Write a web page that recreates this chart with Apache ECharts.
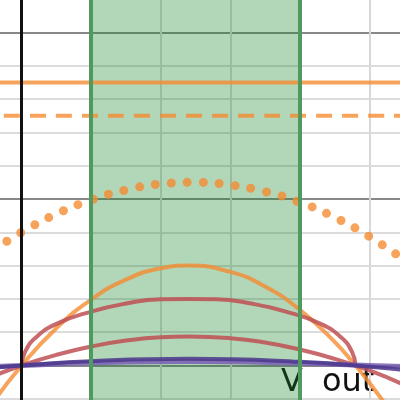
<!DOCTYPE html>
<html>
<head>
<meta charset="utf-8">
<script src="https://cdn.jsdelivr.net/npm/echarts@6/dist/echarts.min.js"></script>
<style>
html,body{margin:0;padding:0}
#wrap{width:400px;height:400px;overflow:hidden;position:relative}
#box{width:487px;height:666px;position:absolute;left:-48.5px;top:-134.5px}
</style>
</head>
<body>
<div id="wrap"><div id="box"></div></div>
<script>
// values
var flatHigh = [[-1, 8.5], [6, 8.5]];
var flatDash = [[-1, 7.5], [6, 7.5]];
var dotted = [[-0.4, 3.47], [0, 4.0], [0.5, 4.55], [1, 4.97], [1.5, 5.27], [2, 5.45], [2.5, 5.5], [3, 5.42], [3.5, 5.22], [4, 4.9], [4.5, 4.45], [5, 3.87], [5.5, 3.17]];
var orangeArc = [[-0.4, -1.08], [0, 0], [0.5, 1.12], [1, 1.98], [1.5, 2.58], [2, 2.92], [2.4, 3], [3, 2.81], [3.5, 2.37], [4, 1.67], [4.5, 0.71], [4.8, 0], [5, -0.52], [5.3, -1.37]];
var redRound = [[0, 0], [0.05, 0.41], [0.2, 0.83], [0.5, 1.25], [1, 1.62], [1.5, 1.86], [2, 1.99], [2.4, 2], [2.8, 1.99], [3.3, 1.86], [3.8, 1.62], [4.3, 1.25], [4.6, 0.83], [4.75, 0.41], [4.8, 0]];
var redFlat = [[-0.4, -0.31], [0, 0], [0.5, 0.32], [1, 0.57], [1.5, 0.75], [2, 0.85], [2.4, 0.87], [3, 0.82], [3.5, 0.69], [4, 0.48], [4.5, 0.2], [5, -0.15], [5.5, -0.58]];
var purpleA = [[-0.4, -0.07], [0, 0], [1, 0.13], [2.4, 0.2], [4, 0.11], [5, -0.04], [5.6, -0.16]];
var purpleB = [[-0.4, -0.03], [0, 0], [1, 0.08], [2.4, 0.12], [4, 0.07], [5, 0.0], [5.6, -0.04]];
var bandFrom = 1, bandTo = 4;

var dom = document.getElementById("box");
var myChart = echarts.init(dom);

function curve(data, color, width, type, cap) {
    return {
        type: 'line', data: data, smooth: true, showSymbol: false, silent: true,
        lineStyle: { color: color, width: width, type: type || 'solid', cap: cap || 'butt' }
    };
}

var orange = 'rgba(245,140,50,0.8)';
var red = 'rgba(190,80,85,0.85)';

var option = {
    animation: false,
    grid: { left: 0, right: 0, top: 0, bottom: 0 },
    xAxis: {
        type: 'value', min: -1, max: 6, interval: 1,
        axisLine: { show: false }, axisTick: { show: false }, axisLabel: { show: false },
        splitLine: { lineStyle: { color: '#d8d8d8', width: 2 } }
    },
    yAxis: {
        type: 'value', min: -5, max: 15, interval: 5,
        axisLine: { show: false }, axisTick: { show: false }, axisLabel: { show: false },
        splitLine: { lineStyle: { color: '#888', width: 2 } },
        minorTick: { show: false, splitNumber: 5 },
        minorSplitLine: { show: true, lineStyle: { color: '#dcdcdc', width: 2 } }
    },
    series: [
        {
            type: 'line', data: [], silent: true,
            markArea: {
                silent: true,
                itemStyle: { color: 'rgba(20,130,40,0.33)' },
                data: [[{ xAxis: bandFrom }, { xAxis: bandTo }]]
            },
            markLine: {
                silent: true, symbol: 'none', label: { show: false },
                data: [
                    { xAxis: bandFrom, lineStyle: { color: '#4f9a5e', width: 4, type: 'solid' } },
                    { xAxis: bandTo, lineStyle: { color: '#4f9a5e', width: 4, type: 'solid' } },
                    { xAxis: 0, lineStyle: { color: '#111', width: 3, type: 'solid' } }
                ]
            }
        },
        curve(flatHigh, orange, 4),
        curve(flatDash, orange, 4, [16, 10]),
        curve(dotted, orange, 9, [0, 16], 'round'),
        curve(orangeArc, orange, 4),
        curve(redRound, red, 4),
        curve(redFlat, red, 4),
        curve(purpleB, 'rgba(120,95,180,0.85)', 5),
        curve(purpleA, 'rgba(75,55,140,0.85)', 4)
    ],
    graphic: [
        { type: 'text', left: 329, top: 501, style: { text: 'V', font: '32px "DejaVu Sans"', fill: '#111' } },
        { type: 'text', left: 370, top: 501, style: { text: 'out', font: '32px "DejaVu Sans"', fill: '#111' } }
    ]
};
if (option && typeof option === "object") {
    myChart.setOption(option, true);
}
</script>
</body>
</html>
